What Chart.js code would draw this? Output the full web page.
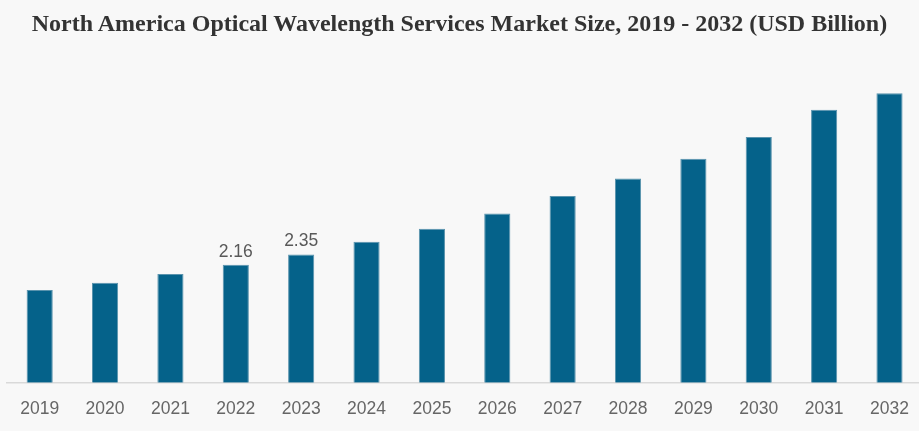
<!DOCTYPE html>
<html>
<head>
<meta charset="utf-8">
<script src="https://cdn.jsdelivr.net/npm/chart.js@4.4.1/dist/chart.umd.min.js"></script>
<style>
  html, body { margin: 0; padding: 0; background: #f8f8f8; overflow: hidden; }
  #wrap { position: relative; width: 927px; height: 431px; }
  #chart { position: absolute; left: 0; top: 0; }
  #titulo {
    position: absolute; left: 0; top: 10px; width: 919px;
    text-align: center; line-height: 28px;
    font: bold 24px "Liberation Serif", "Times New Roman", serif;
    color: #333333;
  }
</style>
</head>
<body>
<div id="wrap">
  <canvas id="chart" width="927" height="431"></canvas>
  <div id="titulo">North America Optical Wavelength Services Market Size, 2019 - 2032 (USD Billion)</div>
</div>
<script>
// dados
const anos = ['2019', '2020', '2021', '2022', '2023', '2024', '2025', '2026', '2027', '2028', '2029', '2030', '2031', '2032'];
const valores = [1.70, 1.83, 1.99, 2.16, 2.35, 2.58, 2.82, 3.10, 3.42, 3.74, 4.10, 4.50, 5.00, 5.30];
const rotulos = ['', '', '', '2.16', '2.35', '', '', '', '', '', '', '', '', ''];

// escreve só os rótulos de 2022 e 2023
const rotuloPlugin = {
    id: 'rotulos',
    afterDatasetsDraw(chart) {
        const ctx = chart.ctx;
        const meta = chart.getDatasetMeta(0);
        ctx.save();
        ctx.font = '17.5px "Liberation Sans", Arial, sans-serif';
        ctx.fillStyle = '#595959';
        ctx.textAlign = 'center';
        ctx.textBaseline = 'bottom';
        meta.data.forEach((bar, i) => {
            if (!rotulos[i]) return;
            ctx.fillText(rotulos[i], bar.x, bar.y - 4);
        });
        ctx.restore();
    }
};

const ctx = document.getElementById('chart').getContext('2d');
new Chart(ctx, {
    type: 'bar',
    data: {
        labels: anos,
        datasets: [{
            data: valores,
            backgroundColor: '#05628a',
            borderColor: '#5a93ad',
            borderWidth: 1,
            barPercentage: 0.4,
            categoryPercentage: 1
        }]
    },
    options: {
        responsive: false,
        devicePixelRatio: 1,
        animation: false,
        layout: { padding: { left: 7, right: 1, bottom: -5.3, top: 55 } },
        plugins: {
            legend: { display: false },
            tooltip: { enabled: false },
            title: { display: false }
        },
        scales: {
            x: {
                grid: { display: false, drawTicks: false },
                border: { color: '#d9d9d9', width: 1.5 },
                ticks: {
                    color: '#666666',
                    font: { family: '"Liberation Sans", Arial, sans-serif', size: 17.5, lineHeight: 1.0 },
                    padding: 18
                }
            },
            y: { display: false, min: 0, max: 6 }
        }
    },
    plugins: [rotuloPlugin]
});
</script>
</body>
</html>
